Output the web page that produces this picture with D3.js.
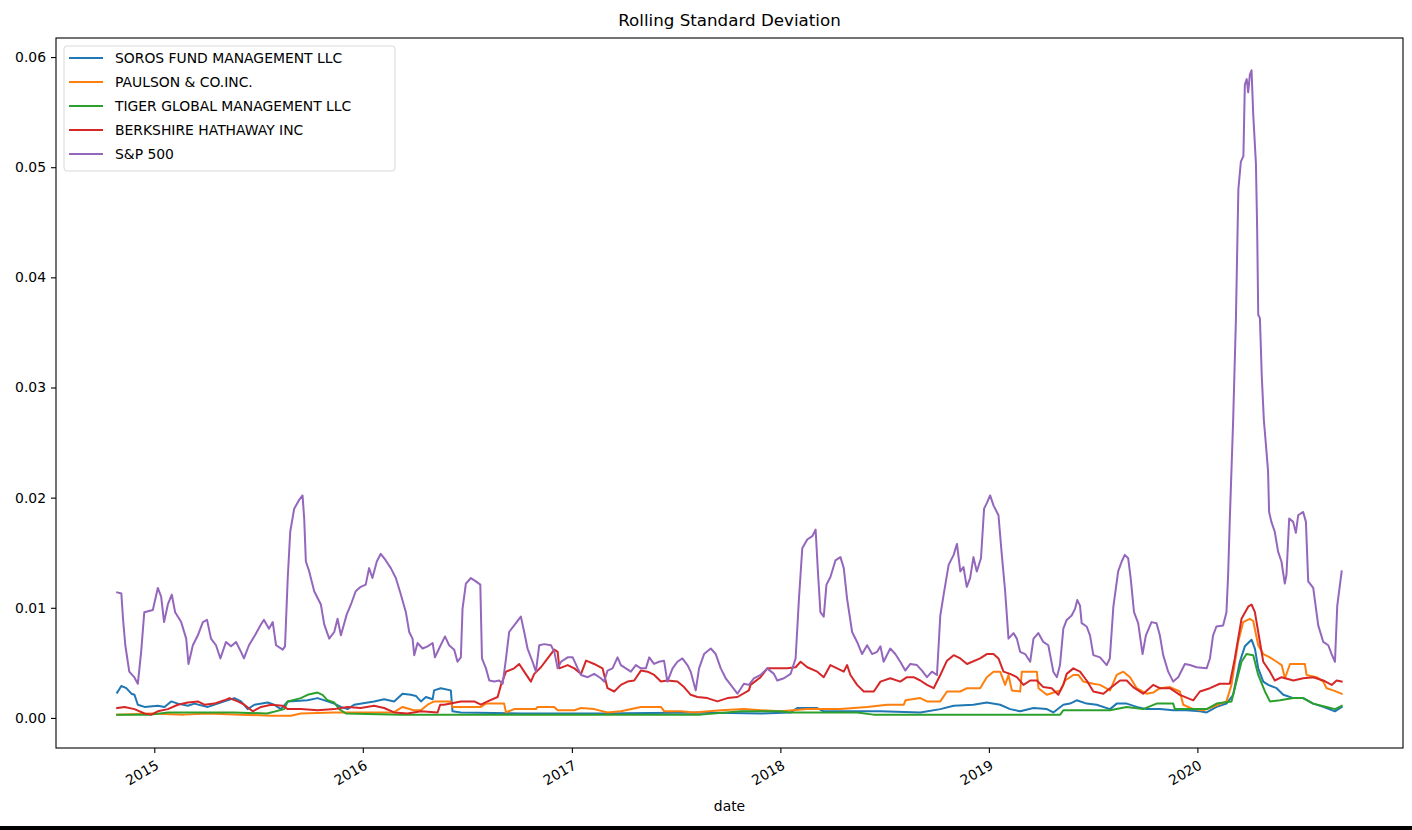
<!DOCTYPE html>
<html>
<head>
<meta charset="utf-8">
<script src="https://cdn.jsdelivr.net/npm/d3@7.9.0/dist/d3.min.js"></script>
<style>
  body { margin: 0; background: #fff; }
  svg { display: block; font-family: "DejaVu Sans", sans-serif; }
</style>
</head>
<body>
<div id="chart"></div>
<script>
// values: [decimal year, rolling std]
const sorosData = [
  [2014.822,0.0023],[2014.842,0.0029],[2014.866,0.0027],[2014.890,0.0022],[2014.905,0.0021],[2014.921,0.0012],
  [2014.953,0.0010],[2015.017,0.0011],[2015.049,0.0010],[2015.081,0.0015],[2015.113,0.0013],[2015.161,0.0011],
  [2015.192,0.0013],[2015.257,0.0010],[2015.336,0.0015],[2015.384,0.0018],[2015.416,0.0015],[2015.448,0.0008],
  [2015.480,0.0012],[2015.544,0.0014],[2015.575,0.0012],[2015.607,0.0008],[2015.640,0.0015],[2015.735,0.0016],
  [2015.783,0.0018],[2015.831,0.0015],[2015.863,0.0013],[2015.895,0.0010],[2015.927,0.0008],[2015.958,0.0012],
  [2016.054,0.0015],[2016.102,0.0017],[2016.150,0.0015],[2016.190,0.0022],[2016.230,0.0021],[2016.254,0.0020],
  [2016.278,0.0015],[2016.302,0.0019],[2016.334,0.0017],[2016.341,0.0025],[2016.373,0.0027],[2016.421,0.0025],
  [2016.429,0.0006],[2016.469,0.0005],[2016.756,0.0004],[2017.139,0.0004],[2017.618,0.0005],[2017.905,0.0004],
  [2018.049,0.0005],[2018.081,0.0009],[2018.177,0.0009],[2018.207,0.0006],[2018.480,0.0006],[2018.671,0.0005],
  [2018.767,0.0008],[2018.831,0.0011],[2018.926,0.0012],[2018.990,0.0014],[2019.054,0.0012],[2019.102,0.0008],
  [2019.150,0.0006],[2019.214,0.0009],[2019.278,0.0008],[2019.309,0.0005],[2019.357,0.0012],[2019.389,0.0013],
  [2019.421,0.0016],[2019.469,0.0013],[2019.517,0.0012],[2019.581,0.0008],[2019.613,0.0013],[2019.661,0.0013],
  [2019.709,0.0010],[2019.756,0.0008],[2019.820,0.0008],[2019.884,0.0007],[2019.948,0.0007],[2020.012,0.0006],
  [2020.044,0.0005],[2020.092,0.0010],[2020.139,0.0013],[2020.171,0.0021],[2020.203,0.0051],[2020.227,0.0065],
  [2020.259,0.0071],[2020.275,0.0063],[2020.291,0.0045],[2020.315,0.0033],[2020.339,0.0030],[2020.379,0.0027],
  [2020.411,0.0021],[2020.459,0.0018],[2020.506,0.0018],[2020.554,0.0013],[2020.602,0.0010],[2020.658,0.0006],
  [2020.690,0.0010]
];

const paulsonData = [
  [2014.822,0.0003],[2014.985,0.0004],[2015.143,0.0003],[2015.258,0.0004],[2015.416,0.0003],[2015.560,0.0002],
  [2015.655,0.0002],[2015.703,0.0004],[2015.861,0.0005],[2016.019,0.0005],[2016.148,0.0005],[2016.190,0.0010],
  [2016.244,0.0007],[2016.278,0.0007],[2016.310,0.0012],[2016.341,0.0015],[2016.421,0.0015],[2016.429,0.0010],
  [2016.565,0.0010],[2016.589,0.0013],[2016.676,0.0013],[2016.685,0.0005],[2016.724,0.0008],[2016.828,0.0008],
  [2016.836,0.0010],[2016.916,0.0010],[2016.932,0.0007],[2017.012,0.0007],[2017.044,0.0009],[2017.107,0.0008],
  [2017.171,0.0005],[2017.235,0.0006],[2017.331,0.0010],[2017.427,0.0010],[2017.443,0.0006],[2017.523,0.0006],
  [2017.586,0.0005],[2017.714,0.0007],[2017.825,0.0008],[2017.905,0.0007],[2018.001,0.0006],[2018.129,0.0008],
  [2018.288,0.0008],[2018.416,0.0010],[2018.512,0.0012],[2018.592,0.0012],[2018.600,0.0016],[2018.671,0.0018],
  [2018.703,0.0015],[2018.767,0.0015],[2018.799,0.0024],[2018.863,0.0024],[2018.895,0.0027],[2018.958,0.0027],
  [2018.990,0.0037],[2019.022,0.0042],[2019.054,0.0042],[2019.078,0.0030],[2019.094,0.0039],[2019.110,0.0025],
  [2019.150,0.0024],[2019.158,0.0042],[2019.230,0.0042],[2019.238,0.0027],[2019.278,0.0021],[2019.326,0.0024],
  [2019.342,0.0025],[2019.366,0.0034],[2019.405,0.0039],[2019.429,0.0039],[2019.453,0.0033],[2019.501,0.0031],
  [2019.533,0.0030],[2019.581,0.0025],[2019.613,0.0039],[2019.645,0.0042],[2019.677,0.0037],[2019.709,0.0027],
  [2019.756,0.0022],[2019.788,0.0023],[2019.820,0.0027],[2019.868,0.0028],[2019.916,0.0024],[2019.932,0.0012],
  [2019.980,0.0008],[2020.028,0.0007],[2020.075,0.0010],[2020.139,0.0015],[2020.163,0.0030],[2020.195,0.0069],
  [2020.219,0.0087],[2020.251,0.0090],[2020.267,0.0088],[2020.291,0.0066],[2020.315,0.0058],[2020.347,0.0055],
  [2020.379,0.0051],[2020.403,0.0048],[2020.419,0.0036],[2020.443,0.0049],[2020.514,0.0049],[2020.522,0.0039],
  [2020.570,0.0037],[2020.602,0.0033],[2020.618,0.0027],[2020.650,0.0025],[2020.690,0.0022]
];

const tigerData = [
  [2014.822,0.0003],[2014.985,0.0003],[2015.065,0.0005],[2015.224,0.0005],[2015.383,0.0005],[2015.541,0.0004],
  [2015.623,0.0008],[2015.640,0.0015],[2015.703,0.0018],[2015.735,0.0021],[2015.783,0.0023],[2015.807,0.0021],
  [2015.831,0.0016],[2015.863,0.0014],[2015.887,0.0008],[2015.919,0.0004],[2016.182,0.0003],[2016.661,0.0003],
  [2017.139,0.0003],[2017.618,0.0003],[2017.810,0.0006],[2018.001,0.0006],[2018.049,0.0005],[2018.368,0.0005],
  [2018.446,0.0003],[2018.815,0.0003],[2019.342,0.0003],[2019.357,0.0007],[2019.469,0.0007],[2019.581,0.0007],
  [2019.661,0.0010],[2019.740,0.0008],[2019.804,0.0013],[2019.884,0.0013],[2019.892,0.0008],[2020.044,0.0008],
  [2020.092,0.0013],[2020.163,0.0015],[2020.187,0.0033],[2020.211,0.0051],[2020.235,0.0058],[2020.267,0.0057],
  [2020.291,0.0039],[2020.323,0.0024],[2020.347,0.0015],[2020.395,0.0016],[2020.459,0.0018],[2020.506,0.0018],
  [2020.554,0.0013],[2020.618,0.0010],[2020.658,0.0008],[2020.690,0.0011]
];

const berkshireData = [
  [2014.822,0.0009],[2014.857,0.0010],[2014.905,0.0008],[2014.953,0.0004],[2014.985,0.0003],[2015.017,0.0006],
  [2015.065,0.0008],[2015.113,0.0012],[2015.161,0.0014],[2015.209,0.0015],[2015.240,0.0012],[2015.288,0.0013],
  [2015.336,0.0016],[2015.360,0.0018],[2015.400,0.0015],[2015.432,0.0012],[2015.472,0.0006],[2015.512,0.0010],
  [2015.560,0.0012],[2015.616,0.0011],[2015.640,0.0008],[2015.703,0.0008],[2015.783,0.0007],[2015.863,0.0008],
  [2015.927,0.0010],[2015.990,0.0009],[2016.054,0.0011],[2016.102,0.0009],[2016.150,0.0005],[2016.214,0.0004],
  [2016.278,0.0006],[2016.358,0.0005],[2016.370,0.0012],[2016.389,0.0012],[2016.469,0.0015],[2016.533,0.0015],
  [2016.565,0.0012],[2016.597,0.0015],[2016.645,0.0019],[2016.661,0.0030],[2016.685,0.0042],[2016.724,0.0045],
  [2016.748,0.0049],[2016.772,0.0042],[2016.804,0.0033],[2016.820,0.0040],[2016.852,0.0046],[2016.884,0.0054],
  [2016.916,0.0062],[2016.932,0.0060],[2016.940,0.0045],[2016.980,0.0048],[2017.012,0.0045],[2017.044,0.0040],
  [2017.068,0.0052],[2017.107,0.0049],[2017.147,0.0045],[2017.171,0.0027],[2017.203,0.0024],[2017.235,0.0030],
  [2017.267,0.0033],[2017.299,0.0034],[2017.331,0.0043],[2017.363,0.0042],[2017.395,0.0039],[2017.427,0.0033],
  [2017.458,0.0034],[2017.506,0.0033],[2017.538,0.0028],[2017.570,0.0021],[2017.602,0.0019],[2017.650,0.0018],
  [2017.698,0.0015],[2017.746,0.0018],[2017.794,0.0019],[2017.849,0.0025],[2017.857,0.0030],[2017.905,0.0037],
  [2017.937,0.0045],[2018.033,0.0045],[2018.073,0.0046],[2018.097,0.0051],[2018.129,0.0046],[2018.177,0.0042],
  [2018.208,0.0037],[2018.240,0.0048],[2018.304,0.0042],[2018.320,0.0048],[2018.336,0.0039],[2018.368,0.0030],
  [2018.400,0.0024],[2018.448,0.0024],[2018.480,0.0033],[2018.527,0.0036],[2018.575,0.0033],[2018.607,0.0037],
  [2018.639,0.0037],[2018.671,0.0034],[2018.703,0.0030],[2018.735,0.0027],[2018.767,0.0039],[2018.799,0.0052],
  [2018.831,0.0057],[2018.863,0.0054],[2018.895,0.0049],[2018.958,0.0054],[2018.990,0.0058],[2019.022,0.0058],
  [2019.046,0.0054],[2019.070,0.0042],[2019.102,0.0040],[2019.134,0.0037],[2019.166,0.0030],[2019.198,0.0034],
  [2019.230,0.0034],[2019.261,0.0028],[2019.301,0.0027],[2019.333,0.0021],[2019.357,0.0030],[2019.373,0.0040],
  [2019.405,0.0045],[2019.437,0.0042],[2019.469,0.0034],[2019.501,0.0024],[2019.549,0.0022],[2019.581,0.0027],
  [2019.629,0.0034],[2019.661,0.0034],[2019.692,0.0028],[2019.740,0.0022],[2019.788,0.0030],[2019.820,0.0027],
  [2019.868,0.0027],[2019.916,0.0021],[2019.980,0.0016],[2020.012,0.0024],[2020.060,0.0027],[2020.107,0.0031],
  [2020.155,0.0031],[2020.179,0.0054],[2020.211,0.0090],[2020.243,0.0101],[2020.259,0.0103],[2020.275,0.0096],
  [2020.291,0.0078],[2020.315,0.0051],[2020.347,0.0042],[2020.370,0.0034],[2020.403,0.0037],[2020.459,0.0034],
  [2020.506,0.0036],[2020.554,0.0037],[2020.602,0.0034],[2020.642,0.0030],[2020.666,0.0034],[2020.690,0.0033]
];

const sp500Data = [
  [2014.822,0.0114],[2014.842,0.0113],[2014.850,0.0090],[2014.861,0.0066],[2014.880,0.0042],[2014.904,0.0037],
  [2014.921,0.0031],[2014.937,0.0060],[2014.952,0.0096],[2014.993,0.0098],[2015.017,0.0118],[2015.033,0.0110],
  [2015.047,0.0087],[2015.065,0.0103],[2015.084,0.0112],[2015.100,0.0096],[2015.129,0.0087],[2015.153,0.0072],
  [2015.164,0.0049],[2015.185,0.0066],[2015.209,0.0075],[2015.233,0.0087],[2015.253,0.0089],[2015.272,0.0072],
  [2015.296,0.0066],[2015.317,0.0054],[2015.344,0.0069],[2015.368,0.0065],[2015.392,0.0069],[2015.416,0.0060],
  [2015.430,0.0054],[2015.454,0.0066],[2015.483,0.0075],[2015.512,0.0085],[2015.526,0.0089],[2015.550,0.0081],
  [2015.568,0.0087],[2015.584,0.0066],[2015.616,0.0062],[2015.627,0.0065],[2015.640,0.0127],[2015.652,0.0169],
  [2015.671,0.0190],[2015.695,0.0198],[2015.711,0.0202],[2015.719,0.0181],[2015.727,0.0142],[2015.743,0.0133],
  [2015.767,0.0115],[2015.799,0.0103],[2015.815,0.0085],[2015.839,0.0072],[2015.863,0.0078],[2015.879,0.0090],
  [2015.895,0.0075],[2015.923,0.0094],[2015.943,0.0103],[2015.966,0.0115],[2015.990,0.0119],[2016.014,0.0121],
  [2016.030,0.0136],[2016.046,0.0127],[2016.067,0.0142],[2016.086,0.0149],[2016.110,0.0143],[2016.134,0.0136],
  [2016.158,0.0127],[2016.182,0.0112],[2016.206,0.0096],[2016.222,0.0078],[2016.238,0.0072],[2016.246,0.0057],
  [2016.262,0.0068],[2016.286,0.0063],[2016.310,0.0065],[2016.334,0.0068],[2016.345,0.0055],[2016.365,0.0063],
  [2016.393,0.0074],[2016.413,0.0066],[2016.437,0.0062],[2016.453,0.0051],[2016.469,0.0055],[2016.477,0.0099],
  [2016.493,0.0122],[2016.517,0.0127],[2016.541,0.0124],[2016.562,0.0121],[2016.570,0.0054],[2016.589,0.0045],
  [2016.605,0.0034],[2016.629,0.0033],[2016.652,0.0034],[2016.669,0.0031],[2016.685,0.0054],[2016.700,0.0078],
  [2016.724,0.0084],[2016.756,0.0092],[2016.772,0.0078],[2016.788,0.0063],[2016.812,0.0051],[2016.828,0.0042],
  [2016.844,0.0066],[2016.868,0.0067],[2016.900,0.0066],[2016.916,0.0060],[2016.932,0.0045],[2016.948,0.0051],
  [2016.980,0.0055],[2017.004,0.0055],[2017.028,0.0045],[2017.044,0.0039],[2017.076,0.0037],[2017.107,0.0040],
  [2017.139,0.0036],[2017.155,0.0033],[2017.171,0.0043],[2017.195,0.0045],[2017.219,0.0055],[2017.235,0.0048],
  [2017.259,0.0045],[2017.283,0.0042],[2017.307,0.0048],[2017.331,0.0045],[2017.355,0.0045],[2017.371,0.0055],
  [2017.394,0.0049],[2017.418,0.0051],[2017.442,0.0052],[2017.458,0.0033],[2017.483,0.0045],[2017.506,0.0051],
  [2017.530,0.0054],[2017.554,0.0048],[2017.570,0.0042],[2017.594,0.0025],[2017.610,0.0045],[2017.634,0.0058],
  [2017.666,0.0063],[2017.690,0.0058],[2017.714,0.0045],[2017.738,0.0036],[2017.762,0.0030],[2017.794,0.0022],
  [2017.825,0.0031],[2017.849,0.0030],[2017.873,0.0036],[2017.905,0.0039],[2017.937,0.0045],[2017.969,0.0040],
  [2017.985,0.0034],[2018.017,0.0036],[2018.049,0.0040],[2018.073,0.0054],[2018.089,0.0108],[2018.105,0.0154],
  [2018.129,0.0162],[2018.153,0.0165],[2018.169,0.0171],[2018.180,0.0133],[2018.192,0.0096],[2018.208,0.0092],
  [2018.221,0.0121],[2018.240,0.0128],[2018.264,0.0143],[2018.288,0.0146],[2018.304,0.0136],[2018.320,0.0108],
  [2018.344,0.0078],[2018.368,0.0069],[2018.392,0.0058],[2018.416,0.0066],[2018.440,0.0058],[2018.464,0.0060],
  [2018.480,0.0065],[2018.495,0.0051],[2018.527,0.0063],[2018.551,0.0058],[2018.575,0.0051],[2018.599,0.0043],
  [2018.623,0.0049],[2018.655,0.0048],[2018.679,0.0043],[2018.703,0.0037],[2018.727,0.0042],[2018.751,0.0039],
  [2018.767,0.0093],[2018.783,0.0112],[2018.807,0.0139],[2018.831,0.0148],[2018.847,0.0158],[2018.863,0.0133],
  [2018.878,0.0137],[2018.894,0.0119],[2018.910,0.0127],[2018.926,0.0146],[2018.942,0.0133],[2018.962,0.0145],
  [2018.977,0.0190],[2018.990,0.0195],[2019.006,0.0202],[2019.022,0.0193],[2019.046,0.0184],[2019.062,0.0148],
  [2019.078,0.0115],[2019.094,0.0072],[2019.118,0.0077],[2019.134,0.0072],[2019.150,0.0060],[2019.174,0.0058],
  [2019.198,0.0051],[2019.214,0.0072],[2019.237,0.0077],[2019.261,0.0069],[2019.285,0.0066],[2019.309,0.0042],
  [2019.326,0.0037],[2019.341,0.0048],[2019.357,0.0081],[2019.373,0.0089],[2019.397,0.0093],[2019.413,0.0099],
  [2019.424,0.0107],[2019.437,0.0102],[2019.445,0.0086],[2019.469,0.0083],[2019.485,0.0075],[2019.501,0.0057],
  [2019.533,0.0055],[2019.565,0.0048],[2019.580,0.0054],[2019.597,0.0101],[2019.620,0.0133],[2019.637,0.0142],
  [2019.652,0.0148],[2019.668,0.0145],[2019.680,0.0127],[2019.696,0.0096],[2019.716,0.0086],[2019.737,0.0058],
  [2019.753,0.0075],[2019.780,0.0087],[2019.804,0.0086],[2019.820,0.0075],[2019.836,0.0057],[2019.860,0.0042],
  [2019.884,0.0033],[2019.908,0.0037],[2019.940,0.0049],[2019.964,0.0048],[2019.996,0.0046],[2020.044,0.0045],
  [2020.060,0.0054],[2020.075,0.0075],[2020.091,0.0083],[2020.123,0.0084],[2020.139,0.0096],[2020.147,0.0130],
  [2020.155,0.0180],[2020.171,0.0270],[2020.184,0.0360],[2020.196,0.0480],[2020.208,0.0505],[2020.220,0.0510],
  [2020.227,0.0575],[2020.236,0.0580],[2020.243,0.0568],[2020.251,0.0584],[2020.259,0.0588],[2020.267,0.0548],
  [2020.280,0.0503],[2020.286,0.0442],[2020.291,0.0366],[2020.299,0.0363],[2020.308,0.0310],[2020.318,0.0270],
  [2020.327,0.0250],[2020.338,0.0224],[2020.343,0.0187],[2020.354,0.0178],[2020.370,0.0169],[2020.386,0.0151],
  [2020.402,0.0142],[2020.418,0.0122],[2020.426,0.0130],[2020.439,0.0181],[2020.458,0.0178],[2020.471,0.0168],
  [2020.482,0.0184],[2020.506,0.0187],[2020.519,0.0178],[2020.530,0.0124],[2020.554,0.0118],[2020.578,0.0084],
  [2020.602,0.0069],[2020.626,0.0066],[2020.642,0.0058],[2020.658,0.0051],[2020.669,0.0102],[2020.690,0.0133]
];

const seriesNames = ['SOROS FUND MANAGEMENT LLC', 'PAULSON & CO.INC.', 'TIGER GLOBAL MANAGEMENT LLC', 'BERKSHIRE HATHAWAY INC', 'S&P 500'];
const seriesColors = ['#1f77b4', '#ff7f0e', '#2ca02c', '#d62728', '#9467bd'];
const yTicks = [0, 0.01, 0.02, 0.03, 0.04, 0.05, 0.06];

const allSeries = [sorosData, paulsonData, tigerData, berkshireData, sp500Data];

// decimal year -> UTC date
function toDate(t) {
  const yr = Math.floor(t);
  const start = Date.UTC(yr, 0, 1);
  const end = Date.UTC(yr + 1, 0, 1);
  return new Date(start + (t - yr) * (end - start));
}

const width = 1412, height = 830;
const margin = { left: 56, right: 9, top: 38, bottom: 82 };
const plotW = width - margin.left - margin.right;
const plotH = height - margin.top - margin.bottom;

const svg = d3.select('#chart').append('svg')
  .attr('width', width)
  .attr('height', height);

svg.append('rect').attr('width', width).attr('height', height).attr('fill', '#fff');

// matplotlib-like 5% margins
let allT = allSeries.flat().map(d => d[0]);
let allV = allSeries.flat().map(d => d[1]);
let tMin = d3.min(allT), tMax = d3.max(allT);
let vMin = d3.min(allV), vMax = d3.max(allV);
let tPad = (tMax - tMin) * 0.05, vPad = (vMax - vMin) * 0.05;

let x = d3.scaleUtc()
  .domain([toDate(tMin - tPad), toDate(tMax + tPad)])
  .range([margin.left, margin.left + plotW]);

let y = d3.scaleLinear()
  .domain([vMin - vPad, vMax + vPad])
  .range([margin.top + plotH, margin.top]);

let g = svg.append('g');

// lines
let line = d3.line()
  .x(d => x(toDate(d[0])))
  .y(d => y(d[1]));

allSeries.forEach((data, i) => {
  g.append('path')
    .attr('d', line(data))
    .attr('fill', 'none')
    .attr('stroke', seriesColors[i])
    .attr('stroke-width', 2)
    .attr('stroke-linejoin', 'round')
    .attr('stroke-linecap', 'square');
});

// y axis
let yAxis = svg.append('g')
  .attr('transform', `translate(${margin.left},0)`)
  .call(d3.axisLeft(y).tickValues(yTicks).tickFormat(d3.format('.2f')).tickSize(5).tickPadding(5));
yAxis.select('.domain').remove();
yAxis.selectAll('text').attr('font-size', '13.9px').attr('fill', '#000').attr('font-family', 'DejaVu Sans');
yAxis.selectAll('line').attr('stroke', '#000').attr('stroke-width', 1.1);

// x axis
let xAxis = svg.append('g')
  .attr('transform', `translate(0,${margin.top + plotH})`)
  .call(d3.axisBottom(x).ticks(d3.utcYear.every(1)).tickFormat(d3.utcFormat('%Y')).tickSize(5));
xAxis.select('.domain').remove();
xAxis.selectAll('line').attr('stroke', '#000').attr('stroke-width', 1.1);
xAxis.selectAll('text')
  .attr('font-size', '13.9px')
  .attr('fill', '#000')
  .attr('font-family', 'DejaVu Sans')
  .attr('text-anchor', 'end')
  .attr('dy', null)
  .attr('y', 0)
  .attr('transform', 'translate(5,20) rotate(-30)');

// frame
svg.append('rect')
  .attr('x', margin.left)
  .attr('y', margin.top)
  .attr('width', plotW)
  .attr('height', plotH)
  .attr('fill', 'none')
  .attr('stroke', '#000')
  .attr('stroke-width', 1.1);

// title and axis label
svg.append('text')
  .attr('x', margin.left + plotW / 2)
  .attr('y', 26)
  .attr('text-anchor', 'middle')
  .attr('font-size', '16.7px')
  .text('Rolling Standard Deviation');

svg.append('text')
  .attr('x', margin.left + plotW / 2)
  .attr('y', 811)
  .attr('text-anchor', 'middle')
  .attr('font-size', '13.9px')
  .text('date');

// legend
let legend = svg.append('g').attr('transform', 'translate(64,46)');
legend.append('rect')
  .attr('width', 331)
  .attr('height', 125)
  .attr('rx', 3)
  .attr('fill', '#fff')
  .attr('fill-opacity', 0.8)
  .attr('stroke', '#d9d9d9')
  .attr('stroke-width', 1);

seriesNames.forEach((name, i) => {
  let row = legend.append('g').attr('transform', `translate(0,${12 + i * 24})`);
  row.append('line')
    .attr('x1', 5).attr('x2', 39)
    .attr('stroke', seriesColors[i])
    .attr('stroke-width', 2);
  row.append('text')
    .attr('x', 51)
    .attr('dy', '0.35em')
    .attr('font-size', '13.9px')
    .text(name);
});

// bottom edge of the screenshot
svg.append('rect').attr('x', 0).attr('y', 826).attr('width', width).attr('height', 4).attr('fill', '#000');
</script>
</body>
</html>
